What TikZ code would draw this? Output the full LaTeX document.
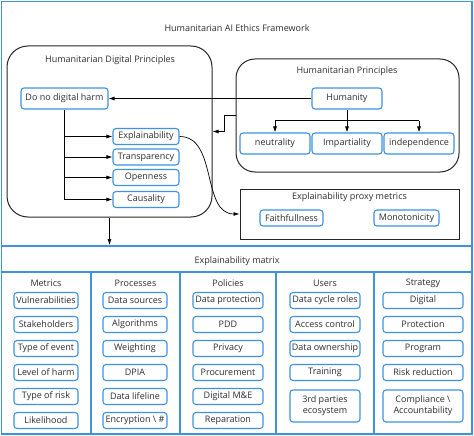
\documentclass[tikz,border=0pt]{standalone}
\usepackage{fontspec}
\setmainfont{Open Sans}
\usetikzlibrary{arrows.meta}
\definecolor{bl}{RGB}{62,146,226}
\definecolor{txt}{RGB}{45,45,45}
\tikzset{
  lbl/.style={font=\fontsize{9}{11}\selectfont, text=txt, inner sep=0pt},
  box/.style={draw=bl, line width=1.1pt, rounded corners=3pt, fill=white, inner sep=0.5pt,
    font=\fontsize{9}{11}\selectfont, text=txt, align=center, minimum height=16pt},
  group/.style={draw=black!85, line width=1pt, inner sep=0pt},
  arr/.style={-{Latex[length=6pt,width=4pt]}, line width=0.7pt, black},
  ln/.style={line width=0.7pt, black},
  frame/.style={draw=bl, line width=1.6pt},
}
\begin{document}
\begin{tikzpicture}[x=1pt,y=-1pt]
\useasboundingbox (0,0) rectangle (474,436);
% outer frame and matrix lines
\draw[frame] (1.5,1.5) rectangle (472,434);
\draw[frame] (1.5,246) -- (472,246);
\draw[frame] (1.5,272) -- (472,272);
\foreach \x in {91,180,276,374} \draw[frame] (\x,272) -- (\x,434);

\node[lbl] (title) at (237,28) {Humanitarian AI Ethics Framework};

% groups
\node[group, rounded corners=21pt, minimum width=205pt, minimum height=171pt] (hdp) at (109.5,131.5) {};
\node[lbl] (hdpt) at (110,60) {Humanitarian Digital Principles};
\node[group, rounded corners=19pt, minimum width=223pt, minimum height=113pt] (hp) at (347.5,115.5) {};
\node[lbl] (hpt) at (347,71) {Humanitarian Principles};
\node[group, minimum width=219pt, minimum height=50pt] (epm) at (349.5,214) {};
\node[lbl] (epmt) at (349.5,197) {Explainability proxy metrics};

% digital principles
\node[box, minimum width=87pt, minimum height=21pt] (dnh) at (64.5,98.5) {Do no digital harm};
\node[box, minimum width=66pt] (expl) at (146,136.5) {Explainability};
\node[box, minimum width=66pt] (trans) at (146,157) {Transparency};
\node[box, minimum width=66pt] (open) at (146,177.5) {Openness};
\node[box, minimum width=66pt] (caus) at (146,199.5) {Causality};

% humanitarian principles
\node[box, minimum width=70pt, minimum height=21pt] (hum) at (347,98.5) {Humanity};
\node[box, minimum width=70pt, minimum height=21pt] (neu) at (275,143.5) {neutrality};
\node[box, minimum width=70pt, minimum height=21pt] (imp) at (347,143.5) {Impartiality};
\node[box, minimum width=70pt, minimum height=21pt] (ind) at (419,143.5) {independence};

% proxy metrics
\node[box, minimum width=63pt] (faith) at (291.5,218) {Faithfullness};
\node[box, minimum width=65pt] (mono) at (406.5,218) {Monotonicity};

% connectors top
\draw[arr] (hum.west) -- (dnh.east);
\draw[arr] (hp.west) -- ++(-11,0) |- (hdp.east);
\draw[ln] (dnh.south) -- (dnh.south |- caus.west);
\foreach \n in {expl,trans,open,caus} \draw[arr] (dnh.south |- \n.west) -- (\n.west);
\draw[ln] (hum.south) -- ++(0,11) coordinate (hb);
\draw[ln] (neu.north |- hb) -- (ind.north |- hb);
\draw[arr] (neu.north |- hb) -- (neu.north);
\draw[arr] (hb) -- (imp.north);
\draw[arr] (ind.north |- hb) -- (ind.north);
\draw[arr] (expl.east) to[out=0,in=180] (epm.west);
\coordinate (mx) at (109.5,245);
\draw[arr] (hdp.south) -- (mx);

% matrix
\node[lbl] (mt) at (237,261) {Explainability matrix};
\node[lbl] (h1) at (46,283) {Metrics};
\node[lbl] (h2) at (135.5,283) {Processes};
\node[lbl] (h3) at (228,283) {Policies};
\node[lbl] (h4) at (325,283) {Users};
\node[lbl] (h5) at (423,283) {Strategy};

\foreach \t [count=\i] in {Vulnerabilities,Stakeholders,Type of event,Level of harm,Type of risk,Likelihood}
  \node[box, minimum width=64pt] (m\i) at (46,{300.5+24*(\i-1)}) {\t};
\foreach \t [count=\i] in {Data sources,Algorithms,Weighting,DPIA,Data lifeline,Encryption \textbackslash\ \#}
  \node[box, minimum width=64pt] (p\i) at (135,{300.5+24*(\i-1)}) {\t};
\foreach \t [count=\i] in {Data protection,PDD,Privacy,Procurement,Digital M\&E,Reparation}
  \node[box, minimum width=70pt] (q\i) at (228,{300.5+24*(\i-1)}) {\t};
\foreach \t [count=\i] in {Data cycle roles,Access control,Data ownership,Training}
  \node[box, minimum width=70pt] (u\i) at (325,{300.5+24*(\i-1)}) {\t};
\node[box, minimum width=70pt, minimum height=32pt] (u5) at (325,406) {3rd parties\\ecosystem};
\foreach \t [count=\i] in {Digital,Protection,Program,Risk reduction}
  \node[box, minimum width=80pt] (s\i) at (423,{300.5+24*(\i-1)}) {\t};
\node[box, minimum width=80pt, minimum height=32pt] (s5) at (423,406) {Compliance \textbackslash\\Accountability};
\end{tikzpicture}
\end{document}
